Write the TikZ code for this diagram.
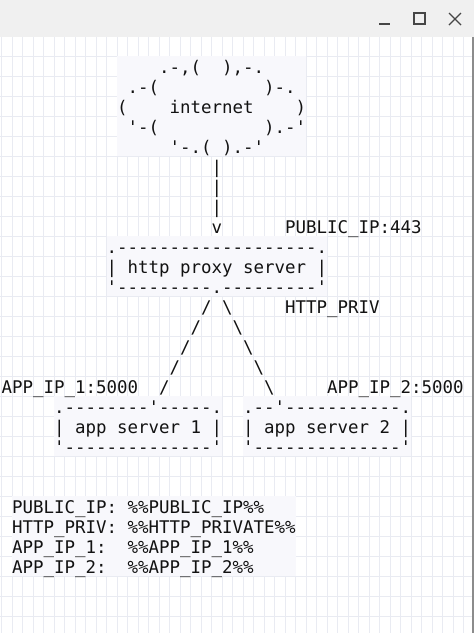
\documentclass[tikz,border=0pt]{standalone}
\usepackage{fontspec}
\setmonofont{DejaVu Sans Mono}
\definecolor{gridc}{RGB}{233,235,242}
\definecolor{boxbg}{RGB}{248,248,252}
\definecolor{barbg}{RGB}{240,240,240}
\definecolor{ink}{RGB}{18,18,18}
\definecolor{iconc}{RGB}{70,70,70}
\definecolor{scrollc}{RGB}{140,140,140}
\newcommand\asciiline[4]{\node[asciitext] (#1) at ({1.55+10.5*#2},{73.3+20*#3}) {#4};}
\newcommand\bgcell[4]{\fill[boxbg] ({1.55+10.5*#1},{56+20*#2}) rectangle ({1.55+10.5*#3},{56+20*#4});}
\begin{document}
\begin{tikzpicture}[x=1pt,y=-1pt,
  asciitext/.style={anchor=base west, inner sep=0pt, outer sep=0pt,
    font=\ttfamily\fontsize{17.44pt}{20pt}\selectfont, text=ink},
  gridline/.style={draw=gridc, line width=0.7pt},
  iconline/.style={draw=iconc, line width=1.3pt}]
\useasboundingbox (0,0) rectangle (474,633);
\fill[white] (0,0) rectangle (474,633);
% grid
\foreach \k in {0,...,44} \draw[gridline] ({1.55+10.5*\k},37) -- ({1.55+10.5*\k},633);
\foreach \k in {0,...,28} \draw[gridline] (0,{56+20*\k}) -- (474,{56+20*\k});
% title bar
\fill[barbg] (0,0) rectangle (474,37);
\draw[iconline] (379,24) -- (390,24);
\draw[iconline] (414,13) rectangle (425,24);
\draw[iconline] (449,13) -- (461,25);
\draw[iconline] (449,25) -- (461,13);
\fill[scrollc] (472,37) rectangle (474,633);
% backgrounds of the shapes
\bgcell{11}{0}{29}{5}
\bgcell{10}{9}{31}{12}
\bgcell{5}{17}{21}{20}
\bgcell{23}{17}{39}{20}
\bgcell{1}{22}{28}{26}
% cloud
\asciiline{c0}{15}{0}{.-,(~~),-.}
\asciiline{c1}{12}{1}{.-(~~~~~~~~~~)-.}
\asciiline{c2}{11}{2}{(~~~~internet~~~~)}
\asciiline{c3}{12}{3}{'-(~~~~~~~~~~).-'}
\asciiline{c4}{16}{4}{'-.(~).-'}
% link to proxy
\asciiline{p1}{20}{5}{|}
\asciiline{p2}{20}{6}{|}
\asciiline{p3}{20}{7}{|}
\asciiline{arr}{20}{8}{v}
\asciiline{lpub}{27}{8}{PUBLIC\_IP:443}
% proxy box
\asciiline{pxt}{10}{9}{.-------------------.}
\asciiline{px}{10}{10}{|~http~proxy~server~|}
\asciiline{pxb}{10}{11}{'---------.---------'}
% branches
\asciiline{s1}{19}{12}{/~\textbackslash}
\asciiline{lpriv}{27}{12}{HTTP\_PRIV}
\asciiline{s2}{18}{13}{/~~~\textbackslash}
\asciiline{s3}{17}{14}{/~~~~~\textbackslash}
\asciiline{s4}{16}{15}{/~~~~~~~\textbackslash}
\asciiline{la1}{0}{16}{APP\_IP\_1:5000}
\asciiline{s5}{15}{16}{/~~~~~~~~~\textbackslash}
\asciiline{la2}{31}{16}{APP\_IP\_2:5000}
% app servers
\asciiline{a1t}{5}{17}{.--------'-----.}
\asciiline{a2t}{23}{17}{.--'-----------.}
\asciiline{a1}{5}{18}{|~app~server~1~|}
\asciiline{a2}{23}{18}{|~app~server~2~|}
\asciiline{a1b}{5}{19}{'--------------'}
\asciiline{a2b}{23}{19}{'--------------'}
% legend
\asciiline{g1}{1}{22}{PUBLIC\_IP:~\%\%PUBLIC\_IP\%\%}
\asciiline{g2}{1}{23}{HTTP\_PRIV:~\%\%HTTP\_PRIVATE\%\%}
\asciiline{g3}{1}{24}{APP\_IP\_1:~~\%\%APP\_IP\_1\%\%}
\asciiline{g4}{1}{25}{APP\_IP\_2:~~\%\%APP\_IP\_2\%\%}
\end{tikzpicture}
\end{document}
